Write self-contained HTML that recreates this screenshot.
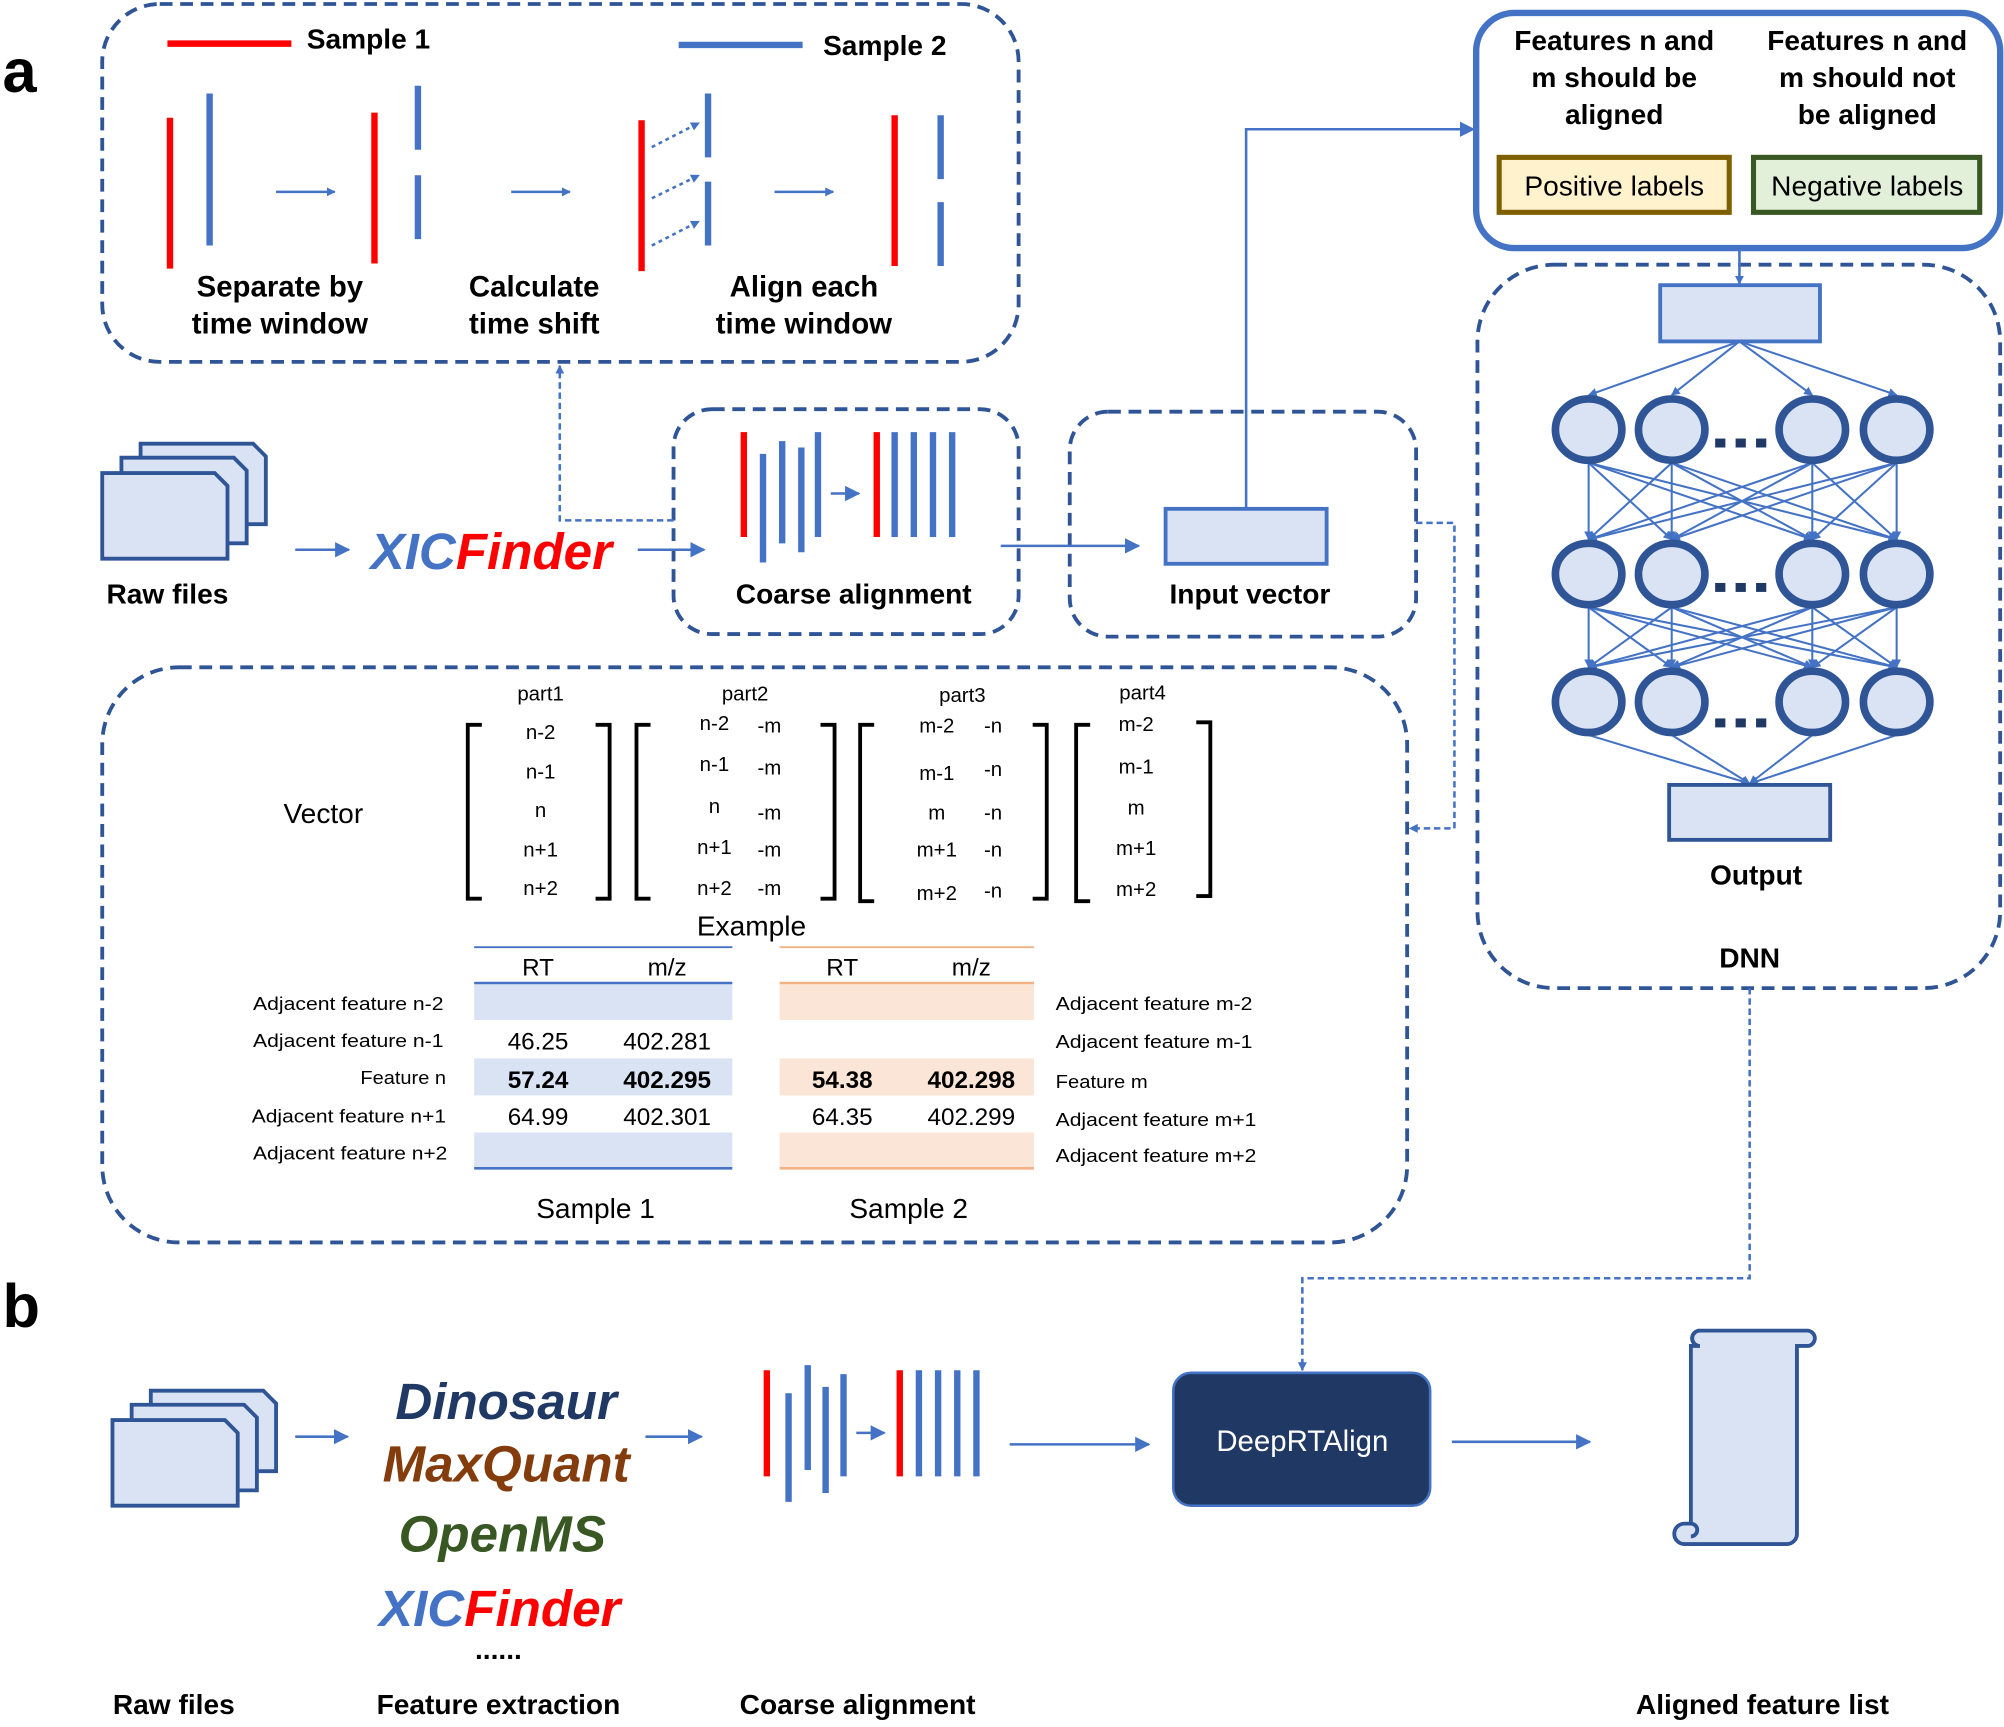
<!DOCTYPE html>
<html><head><meta charset="utf-8"><style>
html,body{margin:0;padding:0;background:#fff}
svg{display:block}
text{font-family:"Liberation Sans",Arial,sans-serif}
</style></head><body>
<svg id="s" xmlns="http://www.w3.org/2000/svg" width="2004" height="1727" viewBox="0 0 1568 1351">
<defs>
<marker id="ar" viewBox="0 0 10 10" refX="9" refY="5" markerWidth="7" markerHeight="7" orient="auto" markerUnits="userSpaceOnUse"><path d="M0,0L10,5L0,10z" fill="#4472C4"/></marker>
<marker id="arn" viewBox="0 0 10 10" refX="9" refY="5" markerWidth="12" markerHeight="12" orient="auto" markerUnits="userSpaceOnUse"><path d="M0,0L10,5L0,10z" fill="#4472C4"/></marker>
</defs>
<rect width="1568" height="1351" fill="#fff"/>
<g font-weight="bold" font-size="48" fill="#000"><text x="2" y="72">a</text><text x="2" y="1038">b</text></g>

<g fill="none" stroke="#2F5597" stroke-width="3" stroke-dasharray="10 6">
<rect x="80" y="3" width="717" height="280" rx="45"/>
<rect x="527" y="320" width="270" height="176" rx="30"/>
<rect x="837" y="322" width="271" height="176" rx="30"/>
<rect x="80" y="522" width="1021" height="450" rx="60"/>
<rect x="1156" y="207" width="409" height="566" rx="60"/>
</g>

<g stroke-width="5">
<line x1="131" y1="34" x2="228" y2="34" stroke="#FF0000"/>
<line x1="531" y1="35" x2="628" y2="35" stroke="#4472C4"/>
<line x1="133" y1="92" x2="133" y2="210" stroke="#FF0000"/>
<line x1="164" y1="73" x2="164" y2="192" stroke="#4472C4"/>
<line x1="293" y1="88" x2="293" y2="206" stroke="#FF0000"/>
<line x1="327" y1="67" x2="327" y2="117" stroke="#4472C4"/>
<line x1="327" y1="137" x2="327" y2="187" stroke="#4472C4"/>
<line x1="502" y1="94" x2="502" y2="212" stroke="#FF0000"/>
<line x1="554" y1="73" x2="554" y2="123" stroke="#4472C4"/>
<line x1="554" y1="142" x2="554" y2="192" stroke="#4472C4"/>
<line x1="700" y1="90" x2="700" y2="208" stroke="#FF0000"/>
<line x1="736" y1="90" x2="736" y2="140" stroke="#4472C4"/>
<line x1="736" y1="158" x2="736" y2="208" stroke="#4472C4"/>
</g>
<g stroke="#4472C4" stroke-width="2" marker-end="url(#ar)">
<line x1="216" y1="150" x2="262" y2="150"/>
<line x1="400" y1="150" x2="446" y2="150"/>
<line x1="606" y1="150" x2="652" y2="150"/>
<line x1="510" y1="115" x2="547" y2="96" stroke-dasharray="3 3"/>
<line x1="510" y1="155" x2="547" y2="137" stroke-dasharray="3 3"/>
<line x1="510" y1="192" x2="547" y2="173" stroke-dasharray="3 3"/>
</g>
<text x="240" y="38" font-weight="bold" font-size="22">Sample 1</text>
<text x="644" y="43" font-weight="bold" font-size="22">Sample 2</text>
<g font-weight="bold" font-size="23" text-anchor="middle">
<text x="219" y="232">Separate by</text><text x="219" y="261">time window</text>
<text x="418" y="232">Calculate</text><text x="418" y="261">time shift</text>
<text x="629" y="232">Align each</text><text x="629" y="261">time window</text>
</g>

<polyline points="527,407 438,407 438,286" fill="none" stroke="#4472C4" stroke-width="2" stroke-dasharray="5 3" marker-end="url(#ar)"/>

<g fill="#DAE3F3" stroke="#2F5597" stroke-width="3">
<path d="M110,347H198L208,357V410H110Z"/>
<path d="M95,358H183L193,368V425H95Z"/>
<path d="M80,370H168L178,380V437H80Z"/>
</g>
<g fill="#DAE3F3" stroke="#2F5597" stroke-width="3" transform="translate(8,741)">
<path d="M110,347H198L208,357V410H110Z"/>
<path d="M95,358H183L193,368V425H95Z"/>
<path d="M80,370H168L178,380V437H80Z"/>
</g>
<g font-weight="bold" font-size="22" text-anchor="middle">
<text x="131" y="472">Raw files</text>
<text x="668" y="472">Coarse alignment</text>
<text x="978" y="472">Input vector</text>
<text x="1374" y="692">Output</text>
<text x="1369" y="757">DNN</text>
<text x="136" y="1341">Raw files</text>
<text x="390" y="1341">Feature extraction</text>
<text x="671" y="1341">Coarse alignment</text>
<text x="1379" y="1341">Aligned feature list</text>
</g>
<g stroke="#4472C4" stroke-width="2" marker-end="url(#arn)">
<line x1="231" y1="430" x2="273" y2="430"/>
<line x1="499" y1="430" x2="551" y2="430"/>
<line x1="783" y1="427" x2="891" y2="427"/>
<line x1="231" y1="1124" x2="272" y2="1124"/>
<line x1="505" y1="1124" x2="549" y2="1124"/>
<line x1="790" y1="1130" x2="899" y2="1130"/>
<line x1="1136" y1="1128" x2="1244" y2="1128"/>
<line x1="650" y1="386" x2="672" y2="386"/>
<line x1="670" y1="1121" x2="692" y2="1121"/>
</g>
<text x="290" y="445" font-size="40" font-weight="bold" font-style="italic"><tspan fill="#4472C4">XIC</tspan><tspan fill="#FF0000">Finder</tspan></text>

<g stroke-width="5">
<line x1="582" y1="338" x2="582" y2="420" stroke="#FF0000"/>
<line x1="597" y1="355" x2="597" y2="440" stroke="#4472C4"/>
<line x1="612" y1="345" x2="612" y2="425" stroke="#4472C4"/>
<line x1="627" y1="350" x2="627" y2="432" stroke="#4472C4"/>
<line x1="640" y1="338" x2="640" y2="420" stroke="#4472C4"/>
<line x1="686" y1="338" x2="686" y2="420" stroke="#FF0000"/>
<line x1="700" y1="338" x2="700" y2="420" stroke="#4472C4"/>
<line x1="715" y1="338" x2="715" y2="420" stroke="#4472C4"/>
<line x1="730" y1="338" x2="730" y2="420" stroke="#4472C4"/>
<line x1="745" y1="338" x2="745" y2="420" stroke="#4472C4"/>
<line x1="600" y1="1072" x2="600" y2="1155" stroke="#FF0000"/>
<line x1="617" y1="1090" x2="617" y2="1175" stroke="#4472C4"/>
<line x1="632" y1="1068" x2="632" y2="1150" stroke="#4472C4"/>
<line x1="646" y1="1085" x2="646" y2="1168" stroke="#4472C4"/>
<line x1="660" y1="1075" x2="660" y2="1155" stroke="#4472C4"/>
<line x1="704" y1="1072" x2="704" y2="1155" stroke="#FF0000"/>
<line x1="719" y1="1072" x2="719" y2="1155" stroke="#4472C4"/>
<line x1="734" y1="1072" x2="734" y2="1155" stroke="#4472C4"/>
<line x1="749" y1="1072" x2="749" y2="1155" stroke="#4472C4"/>
<line x1="764" y1="1072" x2="764" y2="1155" stroke="#4472C4"/>
</g>

<rect x="912" y="398" width="126" height="43" fill="#DAE3F3" stroke="#4472C4" stroke-width="3"/>
<polyline points="975,398 975,101 1153,101" fill="none" stroke="#4472C4" stroke-width="2" marker-end="url(#arn)"/>
<polyline points="1108,409 1138,409 1138,648 1103,648" fill="none" stroke="#4472C4" stroke-width="2" stroke-dasharray="5 3" marker-end="url(#ar)"/>

<rect x="1155" y="10" width="410" height="184" rx="30" fill="none" stroke="#4472C4" stroke-width="5"/>
<g font-weight="bold" font-size="22" text-anchor="middle">
<text x="1263" y="39">Features n and</text><text x="1263" y="68">m should be</text><text x="1263" y="97">aligned</text>
<text x="1461" y="39">Features n and</text><text x="1461" y="68">m should not</text><text x="1461" y="97">be aligned</text>
</g>
<rect x="1173" y="123" width="180" height="43" fill="#FFF2CC" stroke="#7F6000" stroke-width="4"/>
<rect x="1372" y="123" width="177" height="43" fill="#E2F0D9" stroke="#385723" stroke-width="4"/>
<g font-size="22" text-anchor="middle"><text x="1263" y="153">Positive labels</text><text x="1461" y="153">Negative labels</text></g>
<line x1="1361" y1="194" x2="1361" y2="222" stroke="#4472C4" stroke-width="2" marker-end="url(#ar)"/>

<g id="net"></g>
<rect x="1299" y="223" width="125" height="44" fill="#DAE3F3" stroke="#4472C4" stroke-width="3"/>
<rect x="1306" y="614" width="126" height="43" fill="#DAE3F3" stroke="#2F5597" stroke-width="3"/>
<g fill="#1F3864"><rect x="1342" y="343" width="8" height="7"/><rect x="1358" y="343" width="8" height="7"/><rect x="1374" y="343" width="8" height="7"/>
<rect x="1342" y="456" width="8" height="7"/><rect x="1358" y="456" width="8" height="7"/><rect x="1374" y="456" width="8" height="7"/>
<rect x="1342" y="562" width="8" height="7"/><rect x="1358" y="562" width="8" height="7"/><rect x="1374" y="562" width="8" height="7"/></g>
<polyline points="1369,773 1369,1000 1019,1000 1019,1072" fill="none" stroke="#4472C4" stroke-width="2" stroke-dasharray="5 3" marker-end="url(#ar)"/>

<text x="253" y="644" font-size="22" text-anchor="middle">Vector</text>
<g font-size="16" text-anchor="middle">
<text x="423" y="548">part1</text><text x="583" y="548">part2</text><text x="753" y="549">part3</text><text x="894" y="547">part4</text>
<text x="423" y="578">n-2</text><text x="423" y="609">n-1</text><text x="423" y="639">n</text><text x="423" y="670">n+1</text><text x="423" y="700">n+2</text>
<text x="559" y="571">n-2</text><text x="559" y="603">n-1</text><text x="559" y="636">n</text><text x="559" y="668">n+1</text><text x="559" y="700">n+2</text>
<text x="602" y="573">-m</text><text x="602" y="606">-m</text><text x="602" y="641">-m</text><text x="602" y="670">-m</text><text x="602" y="700">-m</text>
<text x="733" y="573">m-2</text><text x="733" y="610">m-1</text><text x="733" y="641">m</text><text x="733" y="670">m+1</text><text x="733" y="704">m+2</text>
<text x="777" y="573">-n</text><text x="777" y="607">-n</text><text x="777" y="641">-n</text><text x="777" y="670">-n</text><text x="777" y="702">-n</text>
<text x="889" y="572">m-2</text><text x="889" y="605">m-1</text><text x="889" y="637">m</text><text x="889" y="669">m+1</text><text x="889" y="701">m+2</text>
</g>
<g fill="none" stroke="#000" stroke-width="3">
<path d="M377,567H366V703H377"/><path d="M466,567H477V703H466"/>
<path d="M509,567H498V703H509"/><path d="M642,567H653V703H642"/>
<path d="M684,567H673V705H684"/><path d="M808,567H819V703H808"/>
<path d="M853,567H842V705H853"/><path d="M936,565H947V701H936"/>
</g>
<text x="588" y="732" font-size="22" text-anchor="middle">Example</text>

<g fill="#DAE3F3"><rect x="371" y="770" width="202" height="28"/><rect x="371" y="828" width="202" height="29"/><rect x="371" y="886" width="202" height="28"/></g>
<g fill="#FBE5D6"><rect x="610" y="770" width="199" height="28"/><rect x="610" y="828" width="199" height="29"/><rect x="610" y="886" width="199" height="28"/></g>
<g stroke="#4472C4"><line x1="371" y1="741" x2="573" y2="741" stroke-width="1.5"/><line x1="371" y1="769" x2="573" y2="769" stroke-width="2"/><line x1="371" y1="914" x2="573" y2="914" stroke-width="2"/></g>
<g stroke="#F4B183"><line x1="610" y1="741" x2="809" y2="741" stroke-width="1.5"/><line x1="610" y1="769" x2="809" y2="769" stroke-width="2"/><line x1="610" y1="914" x2="809" y2="914" stroke-width="2"/></g>
<g font-size="19" text-anchor="middle">
<text x="421" y="763">RT</text><text x="522" y="763">m/z</text><text x="659" y="763">RT</text><text x="760" y="763">m/z</text>
<text x="421" y="821">46.25</text><text x="522" y="821">402.281</text>
<text x="421" y="851" font-weight="bold">57.24</text><text x="522" y="851" font-weight="bold">402.295</text>
<text x="659" y="851" font-weight="bold">54.38</text><text x="760" y="851" font-weight="bold">402.298</text>
<text x="421" y="880">64.99</text><text x="522" y="880">402.301</text>
<text x="659" y="880">64.35</text><text x="760" y="880">402.299</text>
</g>
<g font-size="14.5">
<text x="198" y="790" textLength="149" lengthAdjust="spacingAndGlyphs">Adjacent feature n-2</text>
<text x="198" y="819" textLength="149" lengthAdjust="spacingAndGlyphs">Adjacent feature n-1</text>
<text x="282" y="848" textLength="67" lengthAdjust="spacingAndGlyphs">Feature n</text>
<text x="197" y="878" textLength="152" lengthAdjust="spacingAndGlyphs">Adjacent feature n+1</text>
<text x="198" y="907" textLength="152" lengthAdjust="spacingAndGlyphs">Adjacent feature n+2</text>
<text x="826" y="790" textLength="154" lengthAdjust="spacingAndGlyphs">Adjacent feature m-2</text>
<text x="826" y="820" textLength="154" lengthAdjust="spacingAndGlyphs">Adjacent feature m-1</text>
<text x="826" y="851" textLength="72" lengthAdjust="spacingAndGlyphs">Feature m</text>
<text x="826" y="881" textLength="157" lengthAdjust="spacingAndGlyphs">Adjacent feature m+1</text>
<text x="826" y="909" textLength="157" lengthAdjust="spacingAndGlyphs">Adjacent feature m+2</text>
</g>
<g font-size="22" text-anchor="middle"><text x="466" y="953">Sample 1</text><text x="711" y="953">Sample 2</text></g>

<g font-size="40" font-weight="bold" font-style="italic" text-anchor="middle">
<text x="396" y="1110" fill="#203864">Dinosaur</text>
<text x="396" y="1159" fill="#843C0C">MaxQuant</text>
<text x="393" y="1214" fill="#385723">OpenMS</text>
<text x="391" y="1272"><tspan fill="#4472C4">XIC</tspan><tspan fill="#FF0000">Finder</tspan></text>
</g>
<text x="390" y="1298" font-size="22" font-weight="bold" text-anchor="middle">......</text>
<rect x="918" y="1074" width="201" height="104" rx="14" fill="#203864" stroke="#4472C4" stroke-width="2"/>
<text x="1019" y="1135" font-size="23" fill="#fff" text-anchor="middle">DeepRTAlign</text>

<g fill="#DAE3F3" stroke="#2F5597" stroke-width="3">
<path d="M1330,1041H1414A6,6 0 0 1 1414,1053H1406V1200A8,8 0 0 1 1398,1208H1318A8,8 0 0 1 1318,1192H1323V1053H1330A6,6 0 0 1 1330,1041Z"/>
<path d="M1330,1041A6,6 0 0 0 1330,1053" fill="none"/>
<path d="M1323,1192A5,5 0 0 1 1323,1202" fill="none"/>
</g>

<script>
var ns="http://www.w3.org/2000/svg",g=document.getElementById("net");
function L(x1,y1,x2,y2){var l=document.createElementNS(ns,"line");l.setAttribute("x1",x1);l.setAttribute("y1",y1);l.setAttribute("x2",x2);l.setAttribute("y2",y2);l.setAttribute("stroke","#4472C4");l.setAttribute("stroke-width","1.6");l.setAttribute("marker-end","url(#ar)");g.appendChild(l);}
var xs=[1243,1308,1418,1484],ys=[336,449,549],r=26;
xs.forEach(function(x){L(1361,267,x,ys[0]-r-1);});
for(var k=0;k<2;k++)xs.forEach(function(a){xs.forEach(function(b){L(a,ys[k]+r,b,ys[k+1]-r-1);});});
xs.forEach(function(x){L(x,ys[2]+r,1369,613);});
ys.forEach(function(y){xs.forEach(function(x){var c=document.createElementNS(ns,"ellipse");c.setAttribute("cx",x);c.setAttribute("cy",y);c.setAttribute("rx",r);c.setAttribute("ry",r-2);c.setAttribute("fill","#DAE3F3");c.setAttribute("stroke","#2F5597");c.setAttribute("stroke-width","6");g.appendChild(c);});});
</script>
</svg>
</body></html>
